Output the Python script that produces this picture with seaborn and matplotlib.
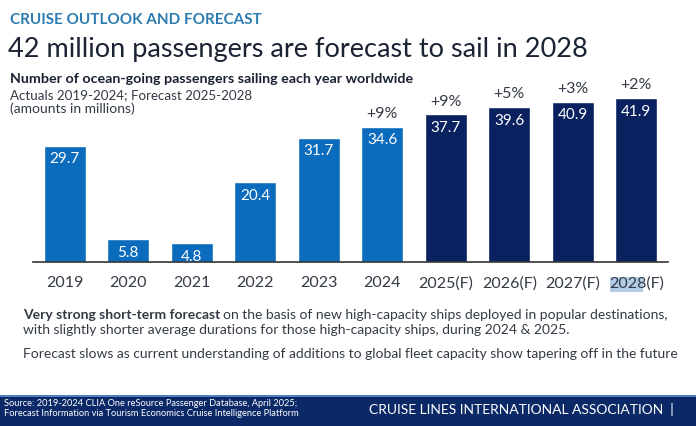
import matplotlib
matplotlib.use("Agg")
import matplotlib.pyplot as plt
import seaborn as sns
import pandas as pd
from matplotlib.patches import Rectangle

years = ["2019", "2020", "2021", "2022", "2023", "2024", "2025(F)", "2026(F)", "2027(F)", "2028(F)"]
passengers = [29.7, 5.8, 4.8, 20.4, 31.7, 34.6, 37.7, 39.6, 40.9, 41.9]
kind = ["Actual"] * 6 + ["Forecast"] * 4
growth = ["", "", "", "", "", "+9%", "+9%", "+5%", "+3%", "+2%"]

df = pd.DataFrame({"year": years, "passengers": passengers, "kind": kind})

sns.set_theme(style="white")
FONT = ["Lato", "DejaVu Sans"]
plt.rcParams["font.family"] = FONT

BLUE = "#0b6cbd"
NAVY = "#0a2160"
TEXT = "#333a45"

fig = plt.figure(figsize=(6.96, 4.26), dpi=100)
ax = fig.add_axes([33 / 696, (426 - 262) / 426, 635 / 696, 182 / 426])
ax.patch.set_alpha(0)

sns.barplot(data=df, x="year", y="passengers", hue="kind",
            palette={"Actual": BLUE, "Forecast": NAVY},
            dodge=False, width=0.66, saturation=1, legend=False, ax=ax)

ax.set_xlim(-0.5, 9.5)
ax.set_ylim(0, 46.5)
ax.set_xlabel("")
ax.set_ylabel("")
ax.set_yticks([])
for s in ["top", "right", "left"]:
    ax.spines[s].set_visible(False)
ax.spines["bottom"].set_color("#333333")
ax.spines["bottom"].set_linewidth(1.2)
ax.tick_params(axis="x", length=0, pad=10, labelsize=11.5, labelcolor=TEXT)

for i, (v, g) in enumerate(zip(passengers, growth)):
    ax.text(i, v - 3.45, f"{v:.1f}", ha="center", va="center",
            color="white", fontsize=11)
    if g:
        ax.text(i, v + 3.3, g, ha="center", va="center",
                color=TEXT, fontsize=11.5)

# selection highlight behind "2028"
fig.patches.append(Rectangle((610 / 696, (426 - 292) / 426), 33 / 696, 15 / 426,
                             transform=fig.transFigure, facecolor="#b4cde6",
                             edgecolor="none", zorder=-5))

# header texts
fig.text(10 / 696, 1 - 20 / 426, "CRUISE OUTLOOK AND FORECAST", color="#2b7bb0",
         fontsize=11, fontweight="bold", va="center", ha="left")
fig.text(8 / 696, 1 - 49 / 426, "42 million passengers are forecast to sail in 2028",
         color="#1a2233", fontsize=19.5, va="center", ha="left")
fig.text(10 / 696, 1 - 79 / 426,
         "Number of ocean-going passengers sailing each year worldwide",
         color="#1a2233", fontsize=10.3, fontweight="bold", va="center", ha="left")
fig.text(10 / 696, 1 - 95 / 426, "Actuals 2019-2024; Forecast 2025-2028",
         color=TEXT, fontsize=9.6, va="center", ha="left")
fig.text(10 / 696, 1 - 109 / 426, "(amounts in millions)",
         color=TEXT, fontsize=10, va="center", ha="left")

# commentary
t1 = fig.text(23 / 696, 1 - 315 / 426, "Very strong short-term forecast",
              color=TEXT, fontsize=10, fontweight="bold", va="center", ha="left")
fig.canvas.draw()
bb = t1.get_window_extent()
fig.text(bb.x1 / fig.bbox.width + 0.004, 1 - 315 / 426,
         "on the basis of new high-capacity ships deployed in popular destinations,",
         color=TEXT, fontsize=10, va="center", ha="left")
fig.text(23 / 696, 1 - 330 / 426,
         "with slightly shorter average durations for those high-capacity ships, during 2024 & 2025.",
         color=TEXT, fontsize=10, va="center", ha="left")
fig.text(23 / 696, 1 - 354 / 426,
         "Forecast slows as current understanding of additions to global fleet capacity show tapering off in the future",
         color=TEXT, fontsize=10, va="center", ha="left")

# footer band
fig.patches.append(Rectangle((0, 0), 1, 31 / 426, transform=fig.transFigure,
                             facecolor="#0c2967", edgecolor="none", zorder=0))
fig.patches.append(Rectangle((0, 29 / 426), 1, 2.5 / 426, transform=fig.transFigure,
                             facecolor="#4f7fbf", edgecolor="none", zorder=1))
fig.text(4 / 696, 1 - 403 / 426, "Source: 2019-2024 CLIA One reSource Passenger Database, April 2025;",
         color="white", fontsize=6.7, va="center", ha="left")
fig.text(4 / 696, 1 - 414 / 426, "Forecast Information via Tourism Economics Cruise Intelligence Platform",
         color="white", fontsize=6.7, va="center", ha="left")
fig.text(369 / 696, 1 - 410 / 426, "CRUISE LINES INTERNATIONAL ASSOCIATION  |",
         color="white", fontsize=10, va="center", ha="left")

fig.savefig("out.png", dpi=100, facecolor="white")
